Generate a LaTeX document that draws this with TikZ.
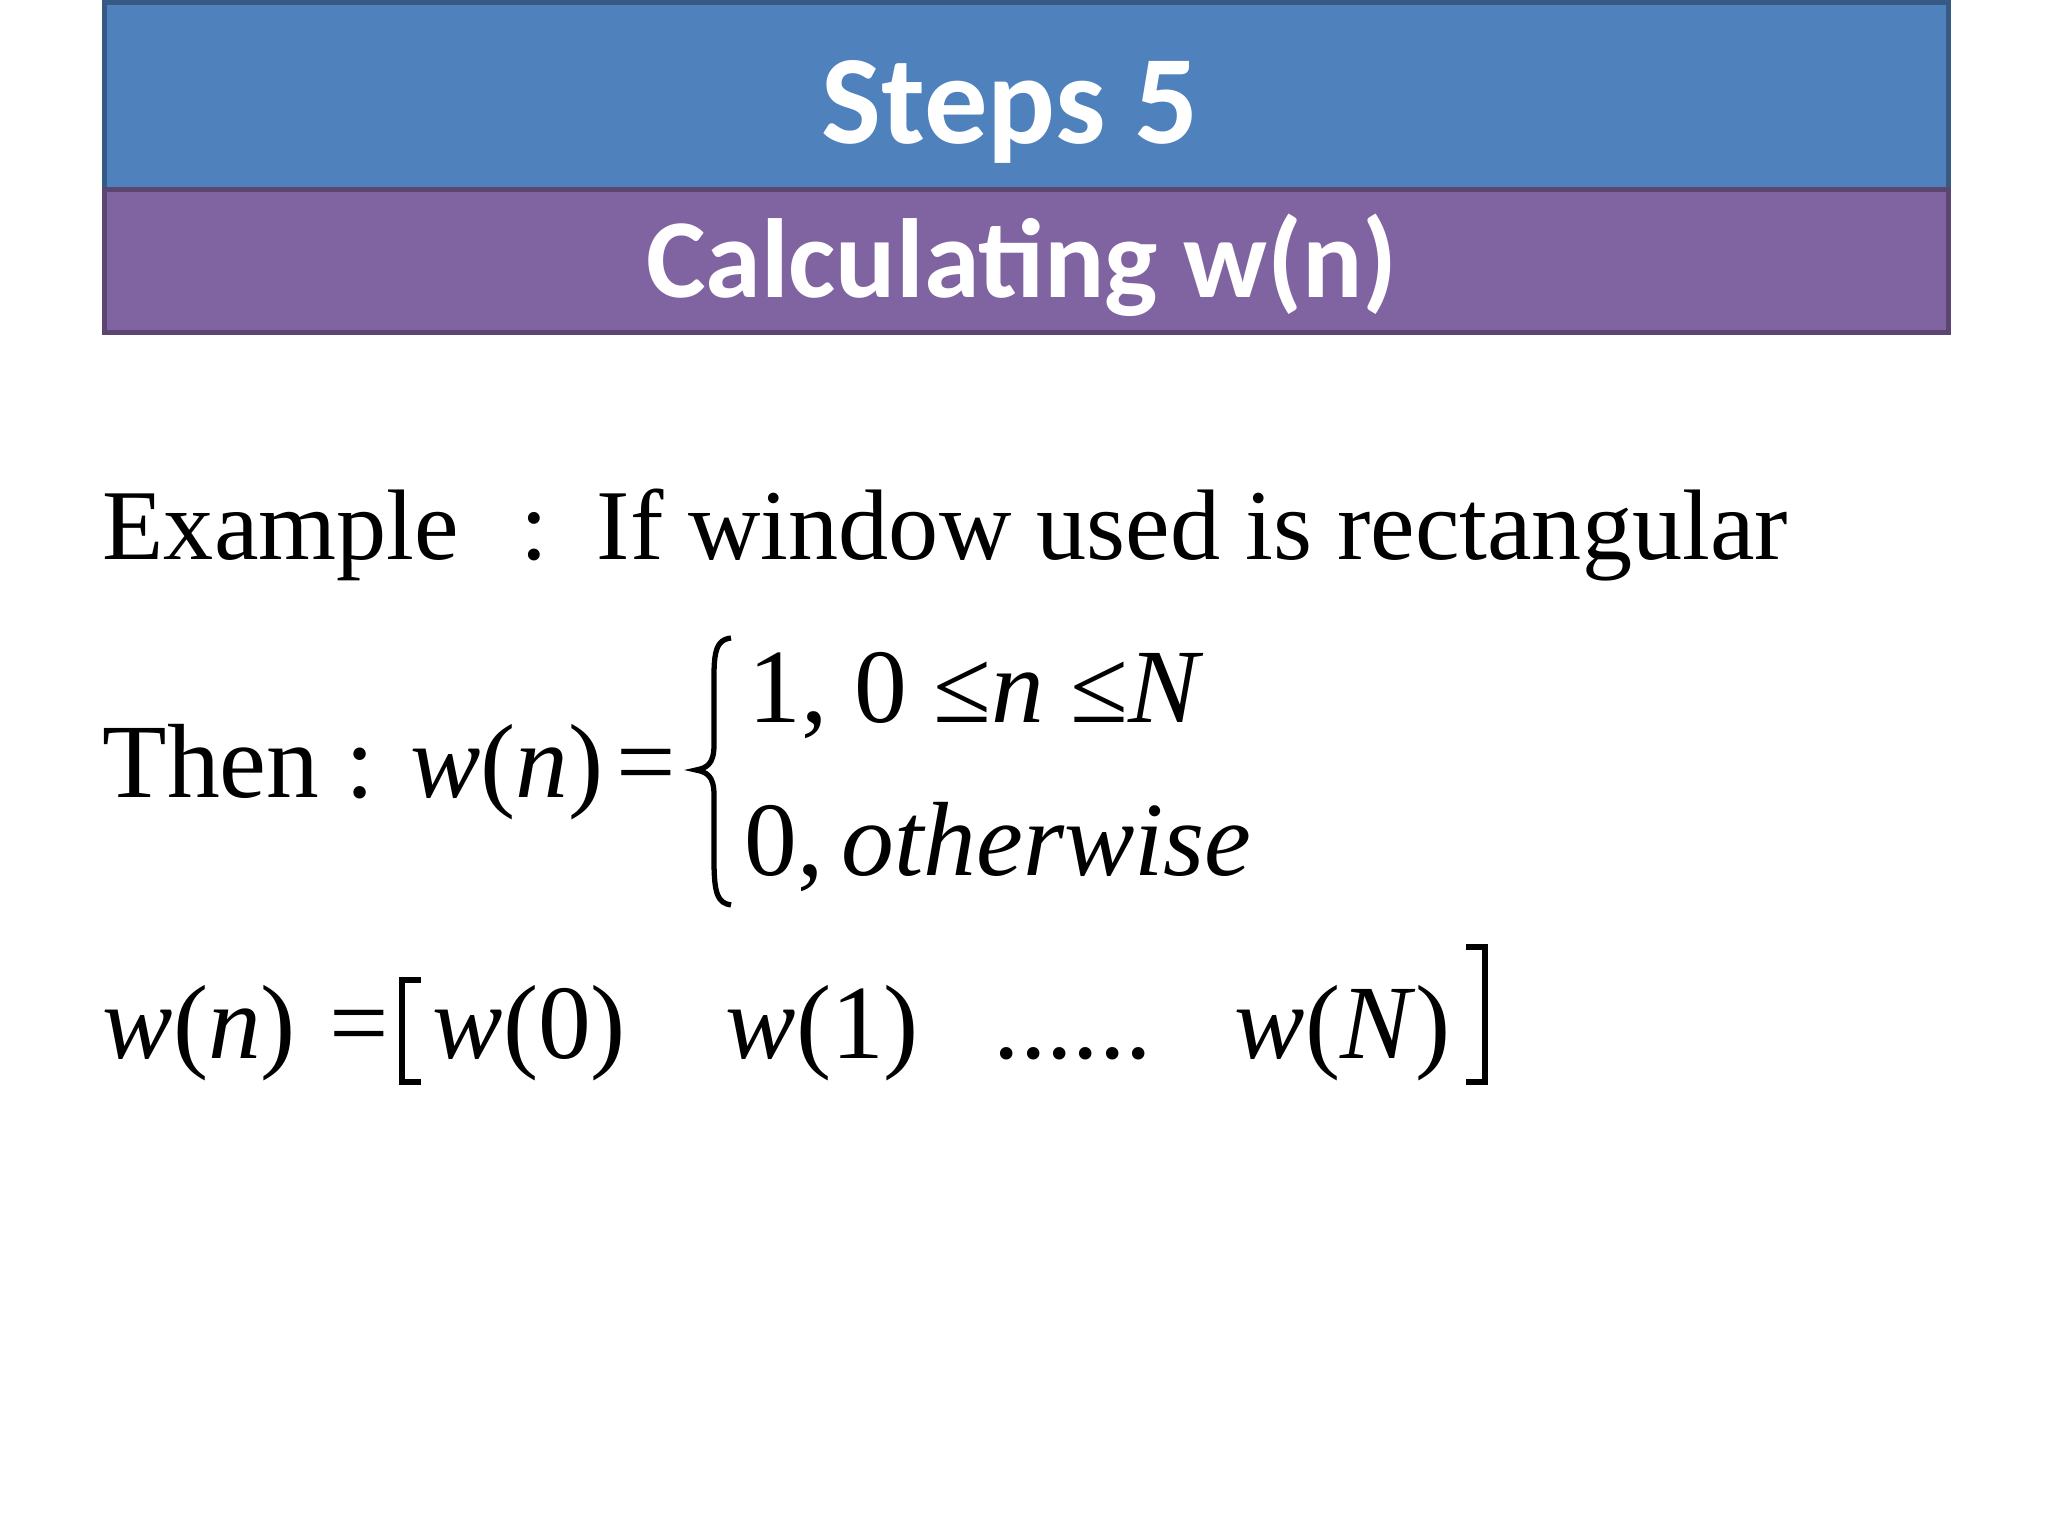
\documentclass[tikz,border=0pt]{standalone}
\usepackage{fontspec}
\setmainfont{Liberation Serif}
\newfontfamily\titlefont{Carlito}
\begin{document}
\begin{tikzpicture}[x=0.01cm,y=-0.01cm,
  band/.style={draw=#1!70!black,line width=1.5pt,minimum width=1844*0.01cm,anchor=north west,inner sep=0pt},
  ttl/.style={text=white,font=\titlefont\bfseries\fontsize{#1}{40}\selectfont},
  txt/.style={anchor=base west,inner sep=0pt,font=\fontsize{28.5}{34}\selectfont},
  mth/.style={anchor=base west,inner sep=0pt,font=\fontsize{30}{36}\selectfont}]
\useasboundingbox (0,0) rectangle (2048,1536);
\definecolor{blueband}{RGB}{79,129,189}
\definecolor{purpband}{RGB}{128,100,162}
\node[band=blueband,fill=blueband,minimum height=187*0.01cm] (b1) at (102,0) {};
\node[band=purpband,fill=purpband,minimum height=143*0.01cm] (b2) at (102,187) {};
\node[ttl=36] (t1) at (1010,112) {Steps 5};
\node[ttl=32] (t2) at (1022,265) {Calculating w(n)};
\node[txt] (ex) at (102,559) {Example};
\node[txt] (co) at (520,559) {:};
\node[txt] (if) at (596,559) {If window used is rectangular};
\node[mth] (th) at (102,797) {Then : \textit{w}(\textit{n})};
\node[mth] (eq1) at (616,797) {=};
\draw[line width=1.5pt] (731,638) .. controls (712,640) and (714,660) .. (714,700) -- (714,745)
  .. controls (714,765) and (706,768) .. (696,770) .. controls (706,772) and (714,775) .. (714,795)
  -- (714,860) .. controls (714,895) and (718,903) .. (731,905);
\node[mth] (l1) at (748,722) {1, 0 ≤\textit{n} ≤\textit{N}};
\node[mth] (l2) at (744,875) {0,\,\textit{otherwise}};
\node[mth] (wl) at (102,1058) {\textit{w}(\textit{n})};
\node[mth] (eq2) at (329,1058) {=};
\draw[line width=1.5pt] (421,980) -- (402,980) -- (402,1082) -- (421,1082);
\node[mth] (w0) at (432,1058) {\textit{w}(0)};
\node[mth] (w1) at (725,1058) {\textit{w}(1)};
\node[mth] (dt) at (993,1058) {......};
\node[mth] (wN) at (1234,1058) {\textit{w}(\textit{N})};
\draw[line width=1.5pt] (1466,947) -- (1485,947) -- (1485,1082) -- (1466,1082);
\end{tikzpicture}
\end{document}
